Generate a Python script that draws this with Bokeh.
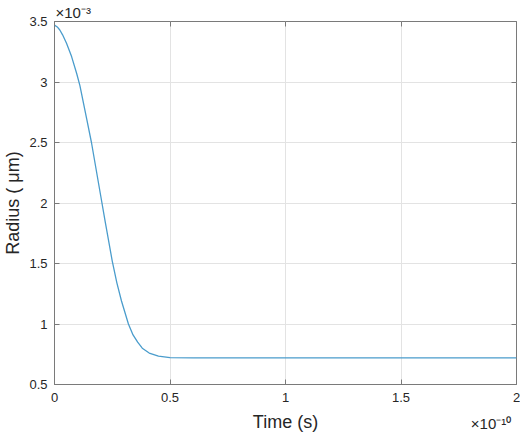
from bokeh.plotting import figure
from bokeh.models import Range1d, FixedTicker, LinearAxis
from bokeh.embed import file_html
from bokeh.resources import INLINE

# time in units of 1e-10 s, radius in units of 1e-3 um
time_e10 = [0, 0.012, 0.023, 0.035, 0.052, 0.074, 0.096, 0.11, 0.14, 0.16, 0.2,
            0.22, 0.25, 0.27, 0.29, 0.32, 0.34, 0.36, 0.38, 0.41, 0.45, 0.5,
            0.6, 1.0, 1.5, 2.0]
radius_e3 = [3.47, 3.455, 3.43, 3.39, 3.32, 3.21, 3.07, 2.97, 2.69, 2.5, 2.06,
             1.84, 1.52, 1.34, 1.19, 1.0, 0.91, 0.85, 0.80, 0.76, 0.735, 0.722,
             0.72, 0.72, 0.72, 0.72]

x_ticks = [0, 0.5, 1, 1.5, 2]
y_ticks = [0.5, 1, 1.5, 2, 2.5, 3, 3.5]
x_mult = "×10⁻¹⁰"
y_mult = "×10⁻³"

FONT = "Liberation Sans"
AX_COL = "#7a7a7a"
TXT_COL = "#262626"

p = figure(width=520, height=435, output_backend="svg", toolbar_location=None,
           x_range=Range1d(0, 2), y_range=Range1d(0.5, 3.5),
           min_border_left=53, min_border_right=4, min_border_top=20,
           min_border_bottom=51)
p.background_fill_color = "white"
p.outline_line_color = AX_COL

p.line(time_e10, radius_e3, line_color="#4a9ccc", line_width=1.3)

for ax, ticks in ((p.xaxis[0], x_ticks), (p.yaxis[0], y_ticks)):
    ax.ticker = FixedTicker(ticks=ticks)
    ax.axis_line_color = AX_COL
    ax.major_tick_line_color = AX_COL
    ax.major_tick_in = 5
    ax.major_tick_out = 0
    ax.minor_tick_line_color = None
    ax.major_label_text_font = FONT
    ax.major_label_text_font_size = "13px"
    ax.major_label_text_color = TXT_COL
    ax.axis_label_text_font = FONT
    ax.axis_label_text_font_size = "18px"
    ax.axis_label_text_font_style = "normal"
    ax.axis_label_text_color = TXT_COL

p.xaxis.major_label_standoff = 8
p.yaxis.axis_label = "Radius ( μm)"
p.yaxis.major_label_standoff = 7
p.yaxis.axis_label_standoff = 3

# ticks on the top and right of the box
for loc, ticks in (("above", x_ticks), ("right", y_ticks)):
    ax = LinearAxis(ticker=FixedTicker(ticks=ticks))
    ax.axis_line_color = None
    ax.major_tick_line_color = AX_COL
    ax.major_tick_in = 5
    ax.major_tick_out = 0
    ax.minor_tick_line_color = None
    ax.major_label_overrides = {t: "" for t in ticks}
    ax.major_label_standoff = 0
    p.add_layout(ax, loc)

# second row under the x axis: "Time (s)" and the x multiplier on one line
xrow = LinearAxis(ticker=FixedTicker(ticks=[1.89]),
                  major_label_overrides={1.89: x_mult})
xrow.axis_line_color = None
xrow.major_tick_line_color = None
xrow.minor_tick_line_color = None
xrow.major_label_text_font = FONT
xrow.major_label_text_font_size = "15px"
xrow.major_label_text_color = TXT_COL
xrow.major_label_standoff = 4
xrow.axis_label = "Time (s)"
xrow.axis_label_text_font = FONT
xrow.axis_label_text_font_size = "18px"
xrow.axis_label_text_font_style = "normal"
xrow.axis_label_text_color = TXT_COL
xrow.axis_label_standoff = -23
p.add_layout(xrow, "below")

# y multiplier above the top-left corner
p.title.text = y_mult
p.title.align = "left"
p.title.offset = 1
p.title.standoff = 2
p.title.text_font = FONT
p.title.text_font_size = "15px"
p.title.text_font_style = "normal"
p.title.text_color = TXT_COL

p.xgrid.ticker = FixedTicker(ticks=x_ticks)
p.ygrid.ticker = FixedTicker(ticks=y_ticks)
p.grid.grid_line_color = "#e3e3e3"

open("out.html", "w").write(file_html(p, INLINE))
